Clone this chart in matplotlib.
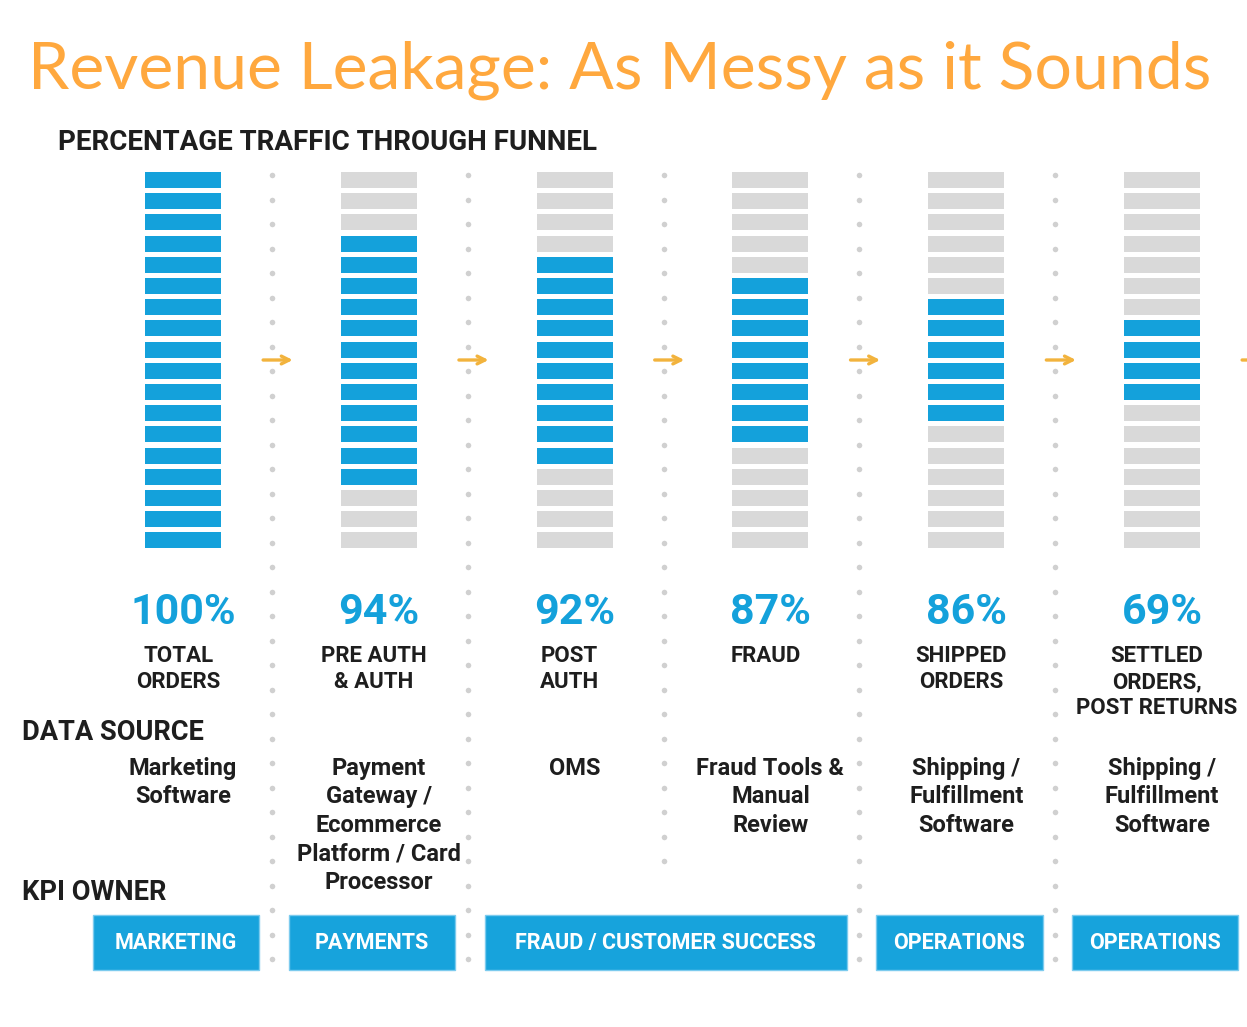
import matplotlib.pyplot as plt
from matplotlib.patches import Rectangle

plt.rcParams['font.family'] = ['Lato', 'DejaVu Sans']
BOLD = ['Roboto', 'DejaVu Sans']

# ---- data ----
stages = ["TOTAL\nORDERS", "PRE AUTH\n& AUTH", "POST\nAUTH", "FRAUD",
          "SHIPPED\nORDERS", "SETTLED\nORDERS,\nPOST RETURNS"]
pct = [100, 94, 92, 87, 86, 69]
n_seg = 18
blue_count = [18, 12, 10, 8, 6, 4]
blue_start = [0, 3, 4, 5, 6, 7]
sources = ["Marketing\nSoftware",
           "Payment\nGateway /\nEcommerce\nPlatform / Card\nProcessor",
           "OMS",
           "Fraud Tools &\nManual\nReview",
           "Shipping /\nFulfillment\nSoftware",
           "Shipping /\nFulfillment\nSoftware"]
owners = ["MARKETING", "PAYMENTS", "FRAUD / CUSTOMER SUCCESS", "OPERATIONS", "OPERATIONS"]
owner_first = [0, 1, 2, 4, 5]
owner_last = [0, 1, 3, 4, 5]

BLUE = '#14a1db'
GRAY = '#d9d9d9'
ORANGE = '#ffa83e'
DARK = '#1e1e1e'

W, H = 1247, 1027
x0, pitch = 183, 195.8   # pixel centre of first column and column spacing

fig = plt.figure(figsize=(W / 100, H / 100), dpi=100)
ax = fig.add_axes([0, 0, 1, 1])
ax.set_xlim(-x0 / pitch, (W - x0) / pitch)
ax.set_ylim(H, 0)
ax.axis('off')

# segments
seg_top, seg_pitch, seg_h = 172, 21.2, 16
for i in range(len(stages)):
    for j in range(n_seg):
        on = blue_start[i] <= j < blue_start[i] + blue_count[i]
        ax.bar(i, seg_h, bottom=seg_top + j * seg_pitch, width=0.388,
               color=BLUE if on else GRAY, align='center')

# dotted separators (the one inside the wide KPI box stops early)
dot_y = [175 + 24.5 * k for k in range(33)]
for i in range(len(stages) - 1):
    ys = dot_y if i != 2 else [y for y in dot_y if y < 885]
    ax.plot([i + 0.455] * len(ys), ys, 'o', color='#d0d0d0', ms=4, mec='none',
            zorder=1)

# arrows (last one runs off the right edge)
for i in range(len(stages)):
    ax.annotate('', xy=(i + 0.575, 360), xytext=(i + 0.395, 360),
                annotation_clip=False,
                arrowprops=dict(arrowstyle='->', color='#f2b33d', lw=2.4,
                                mutation_scale=14))

# title / headers
fig.text(28 / W, 1 - 70 / H, "Revenue Leakage: As Messy as it Sounds",
         color=ORANGE, fontsize=47.6, va='center', ha='left')
fig.text(58 / W, 1 - 143 / H, "PERCENTAGE TRAFFIC THROUGH FUNNEL",
         color=DARK, fontsize=20, fontweight='bold', family=BOLD,
         va='center', ha='left')
fig.text(22 / W, 1 - 733 / H, "DATA SOURCE", color=DARK, fontsize=19.6,
         fontweight='bold', family=BOLD, va='center', ha='left')
fig.text(22 / W, 1 - 892 / H, "KPI OWNER", color=DARK, fontsize=19.6,
         fontweight='bold', family=BOLD, va='center', ha='left')

for i in range(len(stages)):
    ax.text(i, 612, f"{pct[i]}%", color=BLUE, fontsize=31, fontweight='bold',
            family=BOLD, ha='center', va='center')
    ax.text(i - 0.025, 645, stages[i], color=DARK, fontsize=16, fontweight='bold',
            family=BOLD, ha='center', va='top', linespacing=1.24)
    ax.text(i, 757, sources[i], color=DARK, fontsize=17, fontweight='bold',
            family=BOLD, ha='center', va='top', linespacing=1.3)

# KPI owner boxes
for name, a, b in zip(owners, owner_first, owner_last):
    left, right = a - 0.46, b + 0.39
    ax.add_patch(Rectangle((left, 915), right - left, 55, facecolor='#17a3dc',
                           edgecolor='#7ccbee', lw=1, zorder=3))
    ax.text((left + right) / 2, 943, name, color='white', fontsize=15.5,
            fontweight='bold', family=BOLD, ha='center', va='center', zorder=4)

fig.savefig('out.png', dpi=100, facecolor='white')
